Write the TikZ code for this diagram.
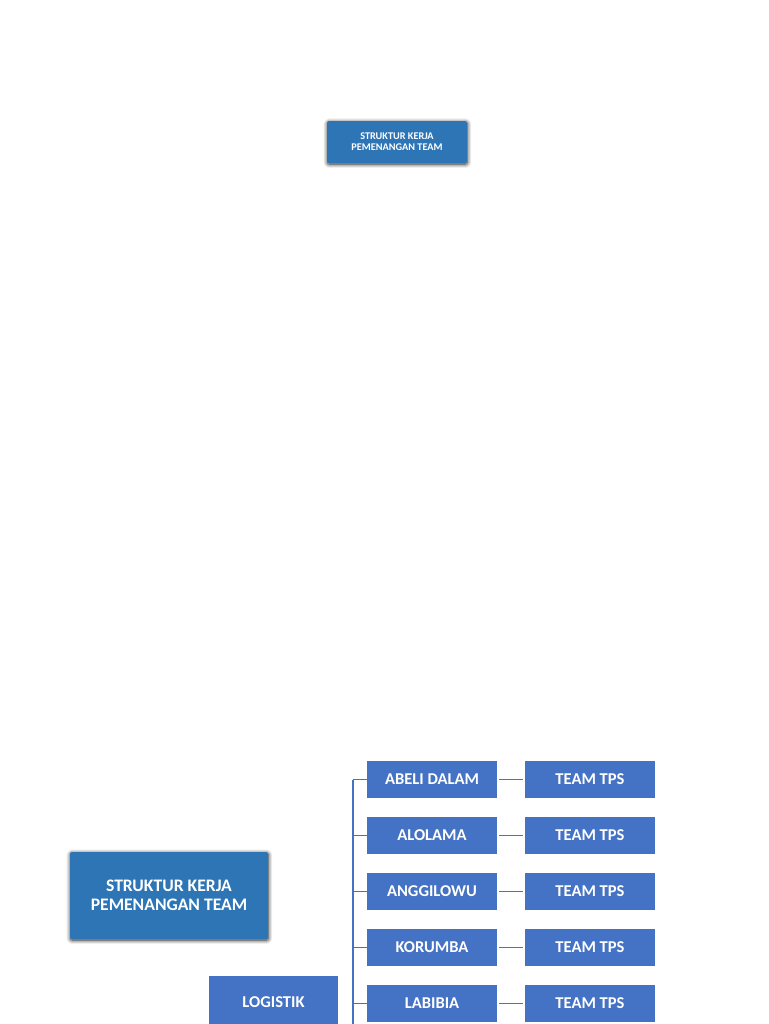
\documentclass[tikz,border=0pt]{standalone}
\usepackage{fontspec}
\setmainfont{Carlito}
\usepackage{tikz}
\usetikzlibrary{shadows.blur}
\definecolor{judulbiru}{HTML}{2E75B6}
\definecolor{kotakbiru}{HTML}{4472C4}
\tikzset{judul/.style={fill=judulbiru, text=white, align=center, rounded corners=1.5pt, font=\bfseries, blur shadow={shadow xshift=0.3pt, shadow yshift=-0.9pt, shadow blur steps=8, shadow blur radius=3pt, shadow opacity=85}, inner sep=0pt}}
\tikzset{kotak/.style={fill=kotakbiru, text=white, align=center, minimum width=97.5pt, minimum height=27.75pt, inner sep=0pt, font=\fontsize{12.4}{14}\selectfont\bfseries}}
\tikzset{garis/.style={draw=kotakbiru, line width=0.8pt}}

\begin{document}
\begin{tikzpicture}[x=0.75pt,y=-0.75pt]
                \useasboundingbox (0,0) rectangle (768,1024);
                \clip (0,0) rectangle (768,1024);
                \node[judul, minimum width=105pt, minimum height=31.5pt, font=\fontsize{7.7}{8.4}\selectfont\bfseries] (judulatas) at (397,142) {STRUKTUR KERJA\\PEMENANGAN TEAM};
                \node[judul, minimum width=148.5pt, minimum height=65.25pt, font=\fontsize{13.2}{14}\selectfont\bfseries] (judulbawah) at (169,895.5) {STRUKTUR KERJA\\PEMENANGAN TEAM};
                \node[kotak, minimum width=96.75pt, minimum height=39pt] (logistik) at (273.5,1002) {LOGISTIK};

                \coordinate (busatas) at (353,779.5);
                \coordinate (busbawah) at (353,1040);
                \draw[garis] (busatas) -- (busbawah);

                \foreach \nama [count=\i from 0] in {ABELI DALAM, ALOLAMA, ANGGILOWU, KORUMBA, LABIBIA} {
                    \node[kotak] (desa\i) at (432,779.5+56*\i) {\nama};
                    \node[kotak] (tps\i) at (590,779.5+56*\i) {TEAM TPS};
                    \draw[garis] (desa\i.west) -- (desa\i.west -| busatas);
                    \draw[garis, shorten <=1.5pt, shorten >=1.5pt] (desa\i) -- (tps\i);
                }
            \end{tikzpicture}
\end{document}
